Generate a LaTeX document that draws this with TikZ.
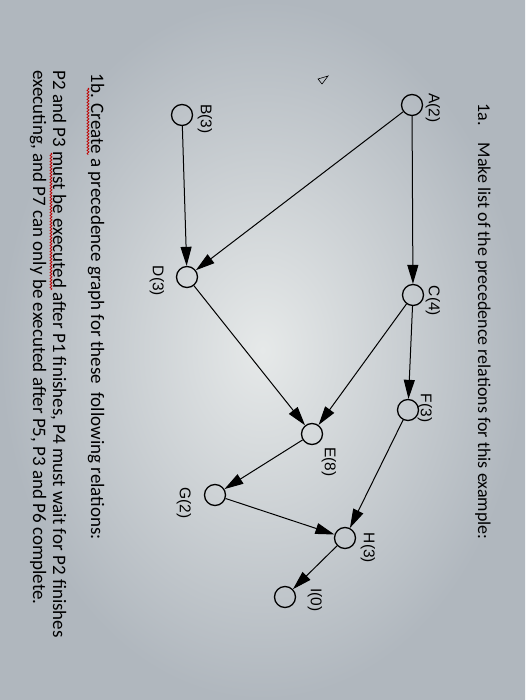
\documentclass[tikz,border=0pt]{standalone}
\usepackage{fontspec}
\setmainfont{Carlito}
\newfontfamily\labelfont{Liberation Sans}
\usetikzlibrary{arrows.meta,decorations.pathmorphing}

\definecolor{paperlight}{RGB}{230,233,233}
\definecolor{papershade}{RGB}{176,183,190}

\begin{document}
\begin{tikzpicture}[
    x=1pt, y=-1pt,
    >={Triangle[length=19pt,width=11pt]},
    line width=1pt,
    proc/.style={
		circle,
		draw=black,
		line width=1.3pt,
		minimum size=21pt,
		inner sep=0pt
	},
	tag/.style={
		rotate=-90,
		inner sep=0pt,
		font=\labelfont\fontsize{15.5}{17}\selectfont
	},
	textline/.style={
		rotate=-90,
		anchor=base west,
		inner sep=0pt,
		font=\fontsize{19}{22}\selectfont
	},
	spell/.style={
		draw=red!75!black,
		line width=0.8pt,
		decorate,
		decoration={snake, amplitude=0.9pt, segment length=3pt}
	}
  ]
    % The photographed page lies on its side
  \shade[inner color=paperlight, outer color=papershade] (0,0) rectangle (525,700);
  \useasboundingbox (0,0) rectangle (525,700);

  \node [textline, font=\fontsize{18}{22}\selectfont] (title1a) at (478,103)
 {1a.\hspace{17pt}Make list of the precedence relations for this example:};
  \node [textline] (title1b) at (91,73)
 {1b. Create a precedence graph for these\ \ following relations:};
  \node [textline] (rel1) at (53,70)
 {P2 and P3 must be executed after P1 finishes, P4 must wait for P2 finishes};
  \node [textline] (rel2) at (33,70)
 {executing, and P7 can only be executed after P5, P3 and P6 complete.};

  \draw [spell] (88,88) -- (88,155);
  \draw [spell] (51,153) -- (51,290);

  % mouse pointer
  \draw [line width=0.6pt] (318,79) -- (328,76) -- (322,84) -- cycle;

    % We place the processes

  \node [proc] (procA) at (412,105) {};
  \node [proc] (procB) at (182,115) {};
  \node [proc] (procC) at (413,295) {};
  \node [proc] (procD) at (187,277) {};
  \node [proc] (procE) at (312,434) {};
  \node [proc] (procF) at (408,410) {};
  \node [proc] (procG) at (215,495) {};
  \node [proc] (procH) at (345,538) {};
  \node [proc] (procI) at (285,597) {};

  \node [tag] (tagA) at (433,108) {A(2)};
  \node [tag] (tagB) at (205,119) {B(3)};
  \node [tag] (tagC) at (433,301) {C(4)};
  \node [tag] (tagD) at (157,281) {D(3)};
  \node [tag] (tagE) at (329,462) {E(8)};
  \node [tag] (tagF) at (425,408) {F(3)};
  \node [tag] (tagG) at (184,503) {G(2)};
  \node [tag] (tagH) at (368,548) {H(3)};
  \node [tag] (tagI) at (315,600) {I(0)};

 \draw [->] (procA) -- (procC);
 \draw [->] (procA) -- (procD);
 \draw [->] (procB) -- (procD);
 \draw [->] (procC) -- (procF);
 \draw [->] (procC) -- (procE);
 \draw [->] (procD) -- (procE);
 \draw [->] (procE) -- (procG);
 \draw [->] (procG) -- (procH);
 \draw [->] (procF) -- (procH);
 \draw [->] (procH) -- (procI);

\end{tikzpicture}
\end{document}
